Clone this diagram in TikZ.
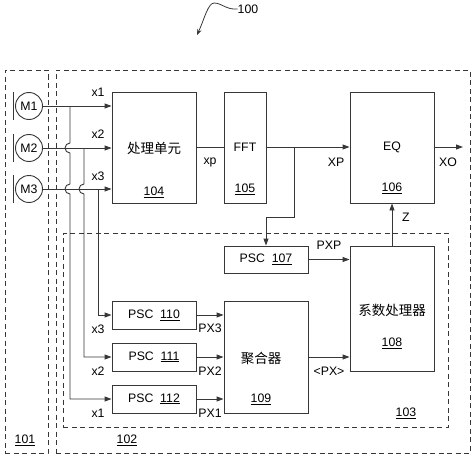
\documentclass[tikz,border=0pt]{standalone}
\usepackage{fontspec}
\setmainfont{Liberation Sans}
\newfontfamily\cjk{Noto Sans CJK SC}
\usetikzlibrary{arrows.meta}
\definecolor{linecol}{RGB}{55,55,55}
\begin{document}
\begin{tikzpicture}[x=1pt,y=-1pt,
  ln/.style={draw=linecol, line width=0.9pt},
  box/.style={draw=linecol, line width=0.9pt, inner sep=0pt},
  dbox/.style={draw=linecol, line width=0.9pt, dash pattern=on 5pt off 3.5pt, inner sep=0pt},
  arr/.style={ln, -{Triangle[length=7pt,width=5pt]}},
  lbl/.style={font=\fontsize{12.3}{14}\selectfont, inner sep=0pt},
  cjkl/.style={font=\cjk\fontsize{13.5}{15}\selectfont, inner sep=0pt},
  mic/.style={circle, draw=linecol, line width=0.9pt, minimum size=27pt, inner sep=0pt, font=\fontsize{12.3}{14}\selectfont}
]
\useasboundingbox (0,0) rectangle (474,460);

% dashed containers
\node[dbox, minimum width=43pt, minimum height=383pt] (d101) at (26.5,261.5) {};
\node[dbox, minimum width=414pt, minimum height=383pt] (d102) at (263,261.5) {};
\node[dbox, minimum width=385pt, minimum height=194pt] (d103) at (255.5,330) {};
\node[lbl] (n101) at (25,440) {\underline{101}};
\node[lbl] (n102) at (127,440) {\underline{102}};
\node[lbl] (n103) at (406,413) {\underline{103}};

% reference 100
\node[lbl] (n100) at (248,9) {100};
\coordinate (a100) at (197,35);
\draw[ln, line width=0.8pt, -{Stealth[length=6pt,width=4.5pt]}] (n100.west) .. controls (226,10) and (222,3) .. (214,3) .. controls (208,3) and (204,20) .. (a100);

% microphones
\node[mic] (m1) at (29,106) {M1};
\node[mic] (m2) at (29,148) {M2};
\node[mic] (m3) at (29,189) {M3};
\draw[ln] (m1.west) ++(-1.5,-14) -- ++(0,28);
\draw[ln] (m2.west) ++(-1.5,-14) -- ++(0,28);
\draw[ln] (m3.west) ++(-1.5,-14) -- ++(0,28);

% main boxes
\node[box, minimum width=84pt, minimum height=111pt] (b104) at (154,147.5) {};
\node[box, minimum width=42pt, minimum height=111pt] (b105) at (245,147.5) {};
\node[box, minimum width=84pt, minimum height=111pt] (b106) at (392,147.5) {};
\node[box, minimum width=84pt, minimum height=27pt] (b107) at (266,259.5) {};
\node[box, minimum width=84pt, minimum height=125pt] (b108) at (392,308.5) {};
\node[box, minimum width=84pt, minimum height=112pt] (b109) at (266,357) {};
\node[box, minimum width=84pt, minimum height=28pt] (b110) at (154,315) {};
\node[box, minimum width=84pt, minimum height=28pt] (b111) at (154,357) {};
\node[box, minimum width=84pt, minimum height=28pt] (b112) at (154,399) {};

% box texts
\node[cjkl] (t104) at (154,148) {处理单元};
\node[lbl] (n104) at (154,192) {\underline{104}};
\node[lbl] (t105) at (245,147) {FFT};
\node[lbl] (n105) at (245,189) {\underline{105}};
\node[lbl] (t106) at (392,147) {EQ};
\node[lbl] (n106) at (392,188) {\underline{106}};
\node[lbl] (t107) at (266,259.5) {PSC\ \ \underline{107}};
\node[cjkl] (t108) at (392,310) {系数处理器};
\node[lbl] (n108) at (392,343) {\underline{108}};
\node[cjkl] (t109) at (261,358) {聚合器};
\node[lbl] (n109) at (261,399) {\underline{109}};
\node[lbl] (t110) at (154,315) {PSC\ \ \underline{110}};
\node[lbl] (t111) at (154,357) {PSC\ \ \underline{111}};
\node[lbl] (t112) at (154,399) {PSC\ \ \underline{112}};

% mic to processing unit
\draw[arr] (m1.east) -- (m1 -| b104.west);
\draw[arr] (m2.east) -- (m2 -| b104.west);
\draw[arr] (m3.east) -- (m3 -| b104.west);
\node[lbl] (lx1) at (98,92) {x1};
\node[lbl] (lx2) at (98,134) {x2};
\node[lbl] (lx3) at (98,176) {x3};

% branches to PSC boxes (with hops)
\coordinate (j1) at (70,106);
\coordinate (j2) at (84,148);
\coordinate (j3) at (98,189);
\draw[arr] (j1) -- (70,143) arc[start angle=270, end angle=90, radius=5]
  -- (70,184) arc[start angle=270, end angle=90, radius=5]
  -- (j1 |- b112.west) -- (b112.west);
\draw[arr] (j2) -- (84,184) arc[start angle=270, end angle=90, radius=5]
  -- (j2 |- b111.west) -- (b111.west);
\draw[arr] (j3) -- (j3 |- b110.west) -- (b110.west);
\node[lbl] (lx3b) at (98,329) {x3};
\node[lbl] (lx2b) at (98,371) {x2};
\node[lbl] (lx1b) at (98,413) {x1};

% PSC to aggregator
\draw[arr] (b110.east) -- (b110.east -| b109.west);
\draw[arr] (b111.east) -- (b111.east -| b109.west);
\draw[arr] (b112.east) -- (b112.east -| b109.west);
\node[lbl] (lp3) at (210,328) {PX3};
\node[lbl] (lp2) at (210,371) {PX2};
\node[lbl] (lp1) at (210,413) {PX1};

% processing chain
\draw[ln] (b104.east |- t105) -- (b105.west |- t105);
\node[lbl] (lxp) at (210,162) {xp};
\coordinate (jf) at (294,147);
\draw[arr] (b105.east |- t106) -- (b106.west |- t106);
\node[lbl] (lXP) at (336,162) {XP};
\draw[arr] (jf) -- (294,217) -- (b107.north |- 0,217) -- (b107.north);
\coordinate (out) at (463,147);
\draw[arr] (b106.east |- t106) -- (out);
\node[lbl] (lXO) at (448,162) {XO};

% coefficient path
\draw[arr] (b107.east) -- (b107.east -| b108.west);
\node[lbl] (lPXP) at (329,245) {PXP};
\draw[arr] (b109.east) -- (b109.east -| b108.west);
\node[lbl] (lPX) at (329,371) {<PX>};
\draw[arr] (b108.north) -- (b106.south);
\node[lbl] (lZ) at (406,217) {Z};
\end{tikzpicture}
\end{document}
